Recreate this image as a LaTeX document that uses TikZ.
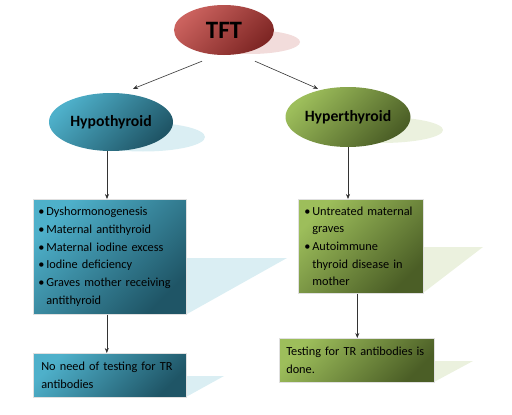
\documentclass[tikz,border=0pt]{standalone}
\usepackage{fontspec}
\setmainfont{Carlito}
\usetikzlibrary{shapes.geometric,arrows.meta}
\definecolor{redA}{HTML}{CB625E}
\definecolor{redB}{HTML}{7E2624}
\definecolor{redS}{HTML}{F2DCDB}
\definecolor{bluA}{HTML}{4EB0CA}
\definecolor{bluB}{HTML}{1F5566}
\definecolor{bluS}{HTML}{DAEEF3}
\definecolor{grnA}{HTML}{9DBE5B}
\definecolor{grnB}{HTML}{4B5E26}
\definecolor{grnS}{HTML}{EBF1DE}
\newcommand{\bul}{\makebox[8pt][l]{\textbullet}}
\newcommand{\hang}{\hspace*{8pt}}
\begin{document}
\begin{tikzpicture}[x=1pt,y=-1pt,
  ell/.style={ellipse, inner sep=0pt, shading angle=45},
  redsh/.style={top color=redA, bottom color=redB, shading angle=45},
  blush/.style={top color=bluA, bottom color=bluB, shading angle=45},
  grnsh/.style={top color=grnA, bottom color=grnB, shading angle=45},
  box/.style={rectangle, anchor=north west, draw=black!12, line width=0.6pt, align=left,
    font=\fontsize{12.3}{17.7}\selectfont},
  arr/.style={draw=black!80, line width=0.6pt, -{Stealth[length=5pt,width=4pt]}}]
\useasboundingbox (0,0) rectangle (512,415);
% shadows
\fill[redS] (250,42) ellipse [x radius=50, y radius=12];
\fill[bluS] (143,137) ellipse [x radius=62, y radius=14.5];
\fill[grnS] (381,130) ellipse [x radius=62, y radius=13];
\fill[bluS] (33,314) -- (187,314) -- (287,258) -- (133,258) -- cycle;
\fill[grnS] (298,293) -- (423,293) -- (483,247) -- (358,247) -- cycle;
\fill[bluS] (33,397) -- (186,397) -- (224,376) -- (71,376) -- cycle;
\fill[grnS] (279,382) -- (434,382) -- (473,361) -- (318,361) -- cycle;
% ellipses
\node[ell, redsh, minimum width=100pt, minimum height=50pt] (tft) at (224,30)
  {\fontsize{25}{25}\selectfont\bfseries TFT};
\node[ell, blush, minimum width=124pt, minimum height=58pt] (hypo) at (111,122)
  {\raisebox{2pt}{\fontsize{15.7}{15.7}\selectfont\bfseries Hypothyroid}};
\node[ell, grnsh, minimum width=125pt, minimum height=60pt] (hyper) at (348,117)
  {\raisebox{2pt}{\fontsize{15.7}{15.7}\selectfont\bfseries Hyperthyroid}};
% boxes
\node[box, blush, minimum width=153pt, minimum height=115pt, inner xsep=5pt, text width=143pt] (b1) at (33,199)
  {\bul Dyshormonogenesis\\ \bul Maternal antithyroid\\ \bul Maternal iodine excess\\
   \bul Iodine deficiency\\ \bul Graves mother receiving\\ \hang antithyroid};
\node[box, grnsh, minimum width=125pt, minimum height=94pt, inner xsep=6pt, text width=113pt] (b2) at (298,199)
  {\bul Untreated maternal\\ \hang graves\\ \bul Autoimmune\\ \hang thyroid disease in\\ \hang mother};
\node[box, blush, minimum width=153pt, minimum height=44pt, inner xsep=8pt, text width=137pt] (b3) at (33,353)
  {No need of testing for TR\\ antibodies};
\node[box, grnsh, minimum width=155pt, minimum height=44pt, inner xsep=7pt, text width=141pt] (b4) at (279,338)
  {\mbox{Testing for TR antibodies is}\\ done.};
% connectors
\draw[arr] ([xshift=-22pt,yshift=-6pt]tft.south) -- ([xshift=22pt,yshift=4pt]hypo.north);
\draw[arr] ([xshift=31pt,yshift=-6pt]tft.south) -- ([xshift=-30pt,yshift=-2pt]hyper.north);
\draw[arr] ([xshift=-4pt]hypo.south) -- ([xshift=-4pt]hypo.south |- b1.north);
\draw[arr] (hyper.south) -- (hyper.south |- b2.north);
\draw[arr] ([xshift=-3pt]b1.south) -- ([xshift=-3pt]b1.south |- b3.north);
\draw[arr] ([xshift=-3.5pt]b2.south) -- ([xshift=-3.5pt]b2.south |- b4.north);
\end{tikzpicture}
\end{document}
